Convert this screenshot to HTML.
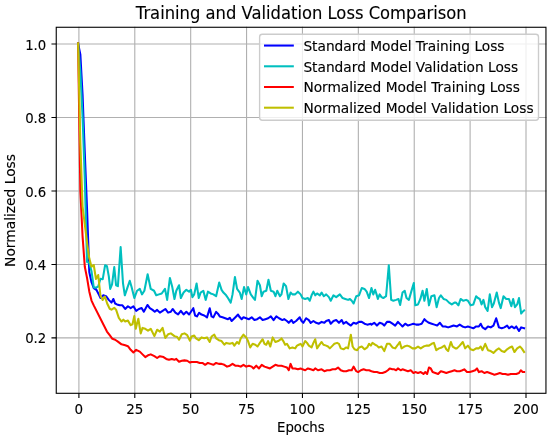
<!DOCTYPE html><html><head><meta charset="utf-8"><style>html,body{margin:0;padding:0;background:#fff;overflow:hidden}svg{display:block}text{font-family:'DejaVu Sans', 'Liberation Sans', sans-serif;fill:#000;stroke:#000;stroke-width:0.22px;stroke-opacity:0.55}</style></head><body>
<svg width="550" height="438" viewBox="0 0 550 438">
<rect x="0" y="0" width="550" height="438" fill="#fff"/>
<g>
<path d="M78.90 27.27V393.30M134.79 27.27V393.30M190.68 27.27V393.30M246.56 27.27V393.30M302.45 27.27V393.30M358.34 27.27V393.30M414.23 27.27V393.30M470.11 27.27V393.30M526.00 27.27V393.30M56.25 337.92H545.95M56.25 264.44H545.95M56.25 190.96H545.95M56.25 117.48H545.95M56.25 44.00H545.95" stroke="#b0b0b0" stroke-width="1.10" fill="none" stroke-linecap="square"/>
<defs><clipPath id="ax"><rect x="56.25" y="27.27" width="489.70" height="366.03"/></clipPath></defs>
<path clip-path="url(#ax)" d="M78.10 43.40 L80.34 54.42 L82.57 94.84 L84.81 153.63 L87.04 208.75 L89.28 271.95 L91.51 282.24 L93.75 288.12 L95.98 289.58 L96.00 288.92 L98.74 294.39 L100.56 298.04 L103.30 295.31 L106.04 296.22 L108.77 299.87 L111.51 302.61 L113.34 298.96 L115.16 303.52 L116.99 304.43 L119.72 305.34 L122.46 305.34 L125.20 308.99 L127.93 306.26 L130.67 308.08 L133.41 306.26 L136.15 310.82 L138.88 308.99 L141.62 308.08 L143.81 311.73 L147.46 304.98 L149.83 308.08 L152.57 309.91 L154.76 311.73 L157.13 309.91 L159.87 312.64 L162.61 310.82 L165.34 308.99 L168.08 312.64 L170.82 311.73 L172.64 308.99 L175.38 312.64 L178.12 314.47 L180.85 310.82 L183.59 314.47 L186.33 311.73 L189.07 314.47 L193.30 308.21 L195.12 315.51 L196.95 316.42 L199.14 312.77 L201.51 314.60 L204.25 315.51 L206.99 317.34 L209.72 308.21 L211.55 316.42 L213.37 317.34 L216.11 311.86 L217.93 313.69 L219.76 316.42 L222.50 317.34 L225.23 318.25 L227.97 319.16 L229.80 317.88 L231.62 320.99 L233.45 319.16 L236.18 316.42 L238.01 314.60 L239.83 317.34 L241.66 319.16 L243.48 317.34 L246.22 318.25 L248.96 319.16 L251.69 317.34 L254.43 320.07 L257.17 319.16 L259.91 317.34 L262.64 320.07 L265.38 319.16 L268.12 318.25 L270.85 316.42 L273.59 320.07 L276.33 316.42 L279.07 318.25 L282.39 320.07 L284.21 319.16 L286.95 320.99 L288.77 322.81 L291.51 320.07 L293.34 322.81 L296.07 320.99 L299.72 317.34 L301.55 320.99 L303.37 322.81 L306.11 318.25 L308.85 320.07 L310.67 322.81 L313.41 320.99 L316.15 322.81 L318.88 323.72 L321.62 321.90 L324.36 322.81 L326.18 320.99 L328.92 320.07 L330.74 323.72 L333.48 320.99 L336.22 320.07 L338.96 322.81 L341.69 320.07 L343.52 323.72 L346.26 321.90 L348.08 323.72 L350.82 325.55 L353.55 322.81 L356.29 323.72 L359.03 321.90 L361.77 321.90 L364.50 323.72 L367.24 324.64 L370.89 323.72 L371.47 324.64 L374.21 322.81 L376.95 325.55 L379.69 322.81 L382.42 323.72 L384.25 325.55 L386.99 321.90 L389.72 321.90 L392.46 323.72 L395.20 325.55 L397.93 321.90 L400.67 324.64 L402.50 326.46 L405.23 323.72 L407.97 325.55 L410.71 324.64 L413.45 323.72 L416.18 324.64 L418.92 324.64 L421.66 323.72 L424.39 319.16 L426.22 320.99 L428.96 322.81 L431.69 323.72 L434.43 324.64 L437.17 325.55 L439.91 322.81 L442.64 326.46 L445.38 326.46 L448.12 327.37 L450.85 326.46 L453.59 325.55 L456.95 326.46 L459.69 324.64 L462.42 326.46 L465.16 327.37 L467.90 326.46 L470.64 327.37 L473.37 328.28 L476.11 326.46 L478.85 326.46 L480.67 323.72 L482.50 327.37 L485.23 329.20 L487.97 326.46 L490.71 327.37 L493.45 325.55 L496.18 318.25 L498.92 327.37 L501.66 328.28 L504.39 327.37 L507.13 325.55 L508.96 328.28 L511.69 326.46 L514.43 328.28 L516.26 326.46 L518.99 331.02 L521.18 327.37 L524.10 328.28" stroke="#0000ff" stroke-width="2.06" fill="none" stroke-linejoin="round" stroke-linecap="square"/>
<path clip-path="url(#ax)" d="M78.10 43.40 L80.34 72.06 L82.57 116.89 L84.81 179.35 L87.04 262.03 L89.28 262.76 L91.51 271.21 L93.75 287.40 L95.98 287.60 L98.22 286.50 L100.45 278.70 L102.69 279.30 L105.12 265.20 L106.95 266.11 L108.77 276.15 L110.23 288.92 L112.06 284.36 L114.25 267.02 L116.07 285.27 L117.90 286.18 L120.64 246.95 L123.01 283.45 L124.83 295.31 L127.02 288.92 L129.76 280.71 L131.58 287.09 L134.32 298.04 L137.06 290.74 L139.80 288.92 L141.99 294.39 L144.36 290.74 L147.64 274.32 L150.74 288.92 L154.03 290.74 L156.22 295.31 L158.96 294.39 L161.69 293.48 L164.98 288.92 L167.17 299.87 L169.91 277.97 L172.28 287.09 L174.47 298.96 L176.29 290.74 L179.03 285.27 L180.85 298.04 L183.59 292.57 L186.33 289.83 L189.07 291.66 L190.89 289.83 L192.39 297.13 L194.21 294.39 L196.58 283.45 L198.77 298.04 L200.60 292.57 L203.34 290.74 L205.71 299.87 L207.90 291.66 L210.64 293.48 L213.37 294.39 L216.11 296.22 L219.21 282.53 L221.58 289.83 L223.41 292.57 L226.15 295.31 L227.97 298.04 L230.71 302.61 L232.53 294.39 L234.91 277.06 L237.09 288.92 L239.83 292.57 L241.66 298.96 L244.03 287.09 L246.22 294.39 L248.04 287.09 L250.78 294.39 L253.52 298.04 L254.98 299.87 L257.53 280.71 L259.91 285.27 L261.73 296.22 L263.55 291.66 L266.29 290.74 L268.48 279.80 L270.85 290.74 L273.59 291.66 L275.42 296.22 L277.24 290.74 L279.98 296.22 L281.47 294.39 L283.66 283.45 L286.04 286.18 L288.41 298.96 L290.60 292.57 L292.42 294.39 L295.16 294.39 L297.90 291.66 L300.64 294.39 L302.46 298.04 L305.20 298.96 L307.93 298.04 L309.76 300.78 L311.58 295.31 L313.41 291.66 L315.23 295.31 L317.06 293.48 L319.80 295.31 L321.62 292.57 L323.81 296.22 L326.18 294.39 L328.92 297.13 L330.74 300.78 L333.48 295.31 L336.22 297.13 L339.87 294.39 L342.61 298.04 L345.34 298.96 L348.08 299.87 L349.91 298.96 L351.73 300.78 L353.55 303.52 L356.29 296.22 L359.03 295.31 L361.77 288.01 L364.50 288.92 L366.69 291.66 L369.07 298.04 L371.47 288.01 L373.30 294.39 L375.12 289.83 L376.58 294.39 L377.86 298.96 L379.69 294.39 L381.51 297.13 L383.34 298.04 L386.07 296.22 L388.81 265.20 L391.18 299.87 L393.37 300.78 L396.11 299.87 L398.48 298.96 L400.12 304.98 L402.50 292.57 L404.69 290.74 L406.51 298.04 L408.88 299.87 L411.26 291.66 L413.81 283.08 L415.27 305.34 L418.01 304.43 L420.38 298.96 L422.57 290.74 L424.39 300.78 L426.77 288.92 L428.96 305.34 L431.33 296.22 L434.43 295.31 L436.62 307.17 L438.99 298.04 L440.82 295.31 L443.55 298.96 L446.29 299.87 L449.03 302.61 L451.77 304.43 L454.50 302.61 L456.04 302.61 L458.41 305.34 L460.60 298.96 L463.34 300.78 L466.07 299.87 L467.90 300.78 L470.64 305.34 L473.37 304.43 L476.11 296.22 L477.93 298.04 L479.76 298.96 L481.58 304.43 L483.41 299.87 L485.23 307.17 L487.61 310.82 L489.80 294.39 L491.99 307.17 L493.81 303.52 L496.73 292.57 L498.92 302.61 L500.74 308.08 L503.48 296.22 L506.22 298.96 L508.96 298.96 L511.33 306.26 L513.15 298.96 L514.98 307.17 L517.17 304.43 L518.99 298.04 L521.18 313.55 L522.64 311.73 L524.10 310.45" stroke="#00bfbf" stroke-width="2.06" fill="none" stroke-linejoin="round" stroke-linecap="square"/>
<path clip-path="url(#ax)" d="M78.10 43.40 L80.34 190.38 L82.57 236.31 L84.81 266.80 L87.04 277.83 L89.28 291.42 L91.51 300.61 L93.75 305.38 L106.95 331.55 L109.69 335.20 L112.42 338.85 L115.16 339.76 L117.90 341.58 L121.55 344.32 L125.20 345.23 L127.93 346.15 L130.67 349.80 L133.41 352.53 L136.15 349.80 L139.80 351.62 L142.53 354.36 L145.27 357.09 L148.01 355.27 L150.74 354.36 L154.39 356.18 L157.13 358.01 L159.87 356.18 L163.52 357.09 L166.26 358.92 L168.99 359.83 L171.73 358.92 L174.47 359.83 L176.29 358.92 L179.03 361.66 L181.77 360.74 L184.50 360.38 L187.24 360.74 L189.98 362.57 L191.47 362.04 L194.21 362.04 L196.95 362.04 L199.69 362.96 L202.42 362.96 L205.16 364.78 L207.90 362.96 L210.64 363.87 L213.37 364.78 L216.11 362.96 L218.85 363.87 L221.58 363.87 L224.32 364.78 L227.06 366.61 L229.80 365.69 L232.53 363.87 L235.27 365.69 L238.01 365.69 L240.74 366.61 L243.48 364.78 L246.22 366.61 L248.96 365.69 L251.69 366.61 L253.52 368.43 L256.26 365.69 L258.99 368.43 L261.73 364.78 L264.47 366.61 L267.20 367.52 L269.94 368.43 L272.68 366.61 L275.42 364.78 L278.15 365.69 L280.89 365.69 L281.47 365.69 L284.21 366.61 L286.95 367.52 L288.77 370.26 L290.60 363.87 L292.42 368.43 L295.16 368.43 L297.90 369.34 L300.64 368.43 L302.46 369.34 L305.20 370.26 L307.93 368.43 L310.67 369.34 L313.41 370.26 L315.23 368.43 L317.97 370.26 L321.62 369.34 L324.36 371.17 L327.09 370.26 L329.83 370.26 L332.57 369.34 L335.31 369.34 L338.04 367.52 L340.78 370.26 L343.52 371.17 L346.26 371.17 L348.99 370.26 L351.73 370.26 L353.55 366.61 L356.29 371.17 L358.12 372.08 L360.85 370.26 L363.59 369.34 L366.33 370.26 L369.07 370.26 L371.47 371.17 L374.21 372.08 L376.95 372.08 L379.69 372.99 L382.42 372.99 L385.16 372.08 L387.90 370.26 L389.72 368.43 L392.46 369.34 L394.28 369.34 L396.11 370.26 L397.93 368.43 L400.67 370.26 L402.50 369.34 L405.23 370.26 L407.97 371.17 L410.71 370.26 L413.45 372.99 L415.27 372.08 L418.01 372.99 L420.74 372.08 L423.48 373.91 L425.31 372.08 L427.13 373.91 L428.96 367.52 L430.78 368.43 L432.61 372.08 L435.34 372.99 L438.08 373.91 L440.82 371.17 L443.55 372.08 L446.29 372.99 L449.03 372.08 L451.77 371.17 L454.50 370.26 L456.95 371.17 L459.69 371.17 L462.42 370.26 L464.25 369.34 L466.99 372.08 L469.72 372.08 L472.46 371.17 L475.20 370.26 L477.02 368.43 L478.85 372.08 L481.58 371.17 L484.32 372.99 L487.06 372.08 L489.80 372.99 L492.53 373.91 L494.36 374.82 L497.09 373.91 L499.83 372.99 L502.57 373.91 L505.31 373.91 L508.04 374.82 L510.78 373.91 L513.52 373.91 L516.26 373.91 L518.99 372.99 L520.82 370.26 L522.64 372.08 L524.10 372.08" stroke="#ff0000" stroke-width="2.06" fill="none" stroke-linejoin="round" stroke-linecap="square"/>
<path clip-path="url(#ax)" d="M78.10 43.40 L80.34 142.61 L82.57 206.54 L84.81 224.55 L87.04 242.55 L89.28 258.35 L91.51 266.80 L93.75 264.97 L95.98 279.00 L98.22 275.00 L100.45 295.50 L102.69 300.00 L104.92 296.50 L107.16 303.50 L109.69 308.74 L111.51 309.65 L114.25 307.82 L116.07 309.65 L118.81 317.86 L121.55 321.51 L123.37 319.69 L125.20 321.51 L127.93 320.60 L130.67 325.16 L132.50 324.25 L134.32 316.04 L135.78 328.81 L137.06 323.34 L138.34 318.77 L140.71 333.37 L142.53 327.90 L145.27 328.81 L148.01 330.64 L150.74 328.81 L154.39 336.11 L157.13 329.72 L159.87 331.55 L162.61 327.90 L165.34 337.93 L168.08 334.28 L170.82 333.37 L174.47 336.11 L177.20 337.02 L179.03 339.76 L181.77 334.28 L184.50 333.37 L187.24 335.20 L189.98 340.67 L191.47 336.50 L194.21 335.58 L196.04 338.32 L198.77 340.15 L201.51 337.41 L204.25 338.32 L206.99 337.41 L209.72 341.97 L211.55 336.50 L214.28 334.67 L216.11 338.32 L218.85 340.15 L221.58 341.06 L224.32 344.71 L226.15 342.88 L229.80 343.80 L232.53 342.88 L234.36 345.62 L237.09 341.97 L238.92 343.80 L240.74 338.32 L243.48 334.67 L246.22 337.41 L248.04 341.06 L250.23 347.45 L252.61 343.80 L255.34 344.71 L257.53 346.53 L259.91 342.88 L262.64 339.23 L264.47 343.80 L266.29 344.71 L268.12 341.06 L270.31 346.53 L272.68 337.41 L275.42 341.97 L278.15 341.06 L280.89 339.23 L281.47 338.32 L283.30 341.06 L285.12 344.71 L286.95 343.80 L289.69 348.36 L292.42 347.45 L295.16 348.36 L296.99 345.62 L298.81 344.71 L300.64 343.80 L302.46 346.53 L305.20 341.06 L307.02 342.88 L308.85 345.62 L311.58 347.45 L313.41 342.88 L315.23 339.23 L317.06 348.36 L318.88 345.62 L321.62 341.97 L323.45 344.71 L326.18 345.62 L328.01 346.53 L329.83 348.36 L332.57 345.62 L334.39 343.80 L337.13 342.88 L338.96 343.80 L340.78 348.36 L343.52 349.27 L346.26 347.45 L348.08 348.36 L350.82 334.67 L352.64 346.53 L354.47 349.27 L357.20 350.18 L359.03 347.45 L361.77 346.53 L364.50 349.27 L367.24 347.45 L369.07 343.80 L370.89 345.62 L372.39 342.88 L375.12 344.71 L376.95 345.62 L378.77 347.45 L381.51 346.53 L384.25 351.09 L386.99 343.80 L389.72 343.80 L392.46 347.45 L395.20 348.36 L397.93 344.71 L399.76 341.97 L401.58 348.36 L404.32 346.53 L407.06 345.62 L409.80 346.53 L412.53 348.36 L415.27 348.36 L418.01 346.53 L420.74 348.36 L423.48 346.53 L426.22 345.62 L428.96 345.62 L431.69 343.80 L433.88 342.88 L436.26 350.18 L438.99 348.36 L441.73 347.45 L444.47 345.62 L446.29 349.27 L448.12 351.09 L450.85 341.97 L452.68 346.53 L455.42 348.36 L456.95 348.36 L459.69 345.62 L462.79 341.97 L465.16 348.36 L467.90 345.62 L470.64 349.27 L473.37 350.18 L476.11 348.36 L478.85 348.36 L480.67 346.53 L482.50 350.18 L485.23 343.80 L487.97 350.18 L490.71 351.09 L493.45 352.92 L496.18 350.18 L498.92 348.36 L501.66 351.09 L504.39 352.01 L507.13 349.27 L509.87 347.45 L512.06 346.53 L514.43 352.01 L517.17 348.36 L519.91 346.53 L521.73 348.36 L524.10 352.01" stroke="#bfbf00" stroke-width="2.06" fill="none" stroke-linejoin="round" stroke-linecap="square"/>
<rect x="56.25" y="27.27" width="489.70" height="366.03" fill="none" stroke="#000" stroke-width="1.10" stroke-linejoin="miter"/>
<path d="M78.90 393.30v4.8M134.79 393.30v4.8M190.68 393.30v4.8M246.56 393.30v4.8M302.45 393.30v4.8M358.34 393.30v4.8M414.23 393.30v4.8M470.11 393.30v4.8M526.00 393.30v4.8M56.25 337.92h-4.8M56.25 264.44h-4.8M56.25 190.96h-4.8M56.25 117.48h-4.8M56.25 44.00h-4.8" stroke="#000" stroke-width="1.10" fill="none"/>
<text transform="translate(78.90 413.8) scale(0.985 1.04)" font-size="13.70" text-anchor="middle">0</text>
<text transform="translate(134.79 413.8) scale(0.985 1.04)" font-size="13.70" text-anchor="middle">25</text>
<text transform="translate(190.68 413.8) scale(0.985 1.04)" font-size="13.70" text-anchor="middle">50</text>
<text transform="translate(246.56 413.8) scale(0.985 1.04)" font-size="13.70" text-anchor="middle">75</text>
<text transform="translate(302.45 413.8) scale(0.985 1.04)" font-size="13.70" text-anchor="middle">100</text>
<text transform="translate(358.34 413.8) scale(0.985 1.04)" font-size="13.70" text-anchor="middle">125</text>
<text transform="translate(414.23 413.8) scale(0.985 1.04)" font-size="13.70" text-anchor="middle">150</text>
<text transform="translate(470.11 413.8) scale(0.985 1.04)" font-size="13.70" text-anchor="middle">175</text>
<text transform="translate(526.00 413.8) scale(0.985 1.04)" font-size="13.70" text-anchor="middle">200</text>
<text transform="translate(46.3 343.47) scale(0.97 1.04)" font-size="13.70" text-anchor="end">0.2</text>
<text transform="translate(46.3 269.99) scale(0.97 1.04)" font-size="13.70" text-anchor="end">0.4</text>
<text transform="translate(46.3 196.51) scale(0.97 1.04)" font-size="13.70" text-anchor="end">0.6</text>
<text transform="translate(46.3 123.03) scale(0.97 1.04)" font-size="13.70" text-anchor="end">0.8</text>
<text transform="translate(46.3 49.55) scale(0.97 1.04)" font-size="13.70" text-anchor="end">1.0</text>
<text transform="translate(300.85 432.4) scale(0.972 1)" font-size="13.70" text-anchor="middle">Epochs</text>
<text transform="translate(15.2 210.5) rotate(-90)" x="0" y="0" font-size="13.8" text-anchor="middle">Normalized Loss</text>
<text transform="translate(301.2 18.75) scale(0.996 1.05)" x="0" y="0" font-size="16.44" text-anchor="middle">Training and Validation Loss Comparison</text>
<rect x="259.60" y="34.20" width="278.90" height="86.10" rx="2.74" ry="2.74" fill="#fff" fill-opacity="0.8" stroke="#cccccc" stroke-width="1.37"/>
<path d="M265.0 45.55H292.8" stroke="#0000ff" stroke-width="2.06" stroke-linecap="square"/>
<text x="303.4" y="50.75" font-size="13.74">Standard Model Training Loss</text>
<path d="M265.0 66.30H292.8" stroke="#00bfbf" stroke-width="2.06" stroke-linecap="square"/>
<text x="303.4" y="71.50" font-size="13.74">Standard Model Validation Loss</text>
<path d="M265.0 87.00H292.8" stroke="#ff0000" stroke-width="2.06" stroke-linecap="square"/>
<text x="303.4" y="92.20" font-size="13.74">Normalized Model Training Loss</text>
<path d="M265.0 107.70H292.8" stroke="#bfbf00" stroke-width="2.06" stroke-linecap="square"/>
<text x="303.4" y="112.90" font-size="13.74">Normalized Model Validation Loss</text>
</g></svg></body></html>
